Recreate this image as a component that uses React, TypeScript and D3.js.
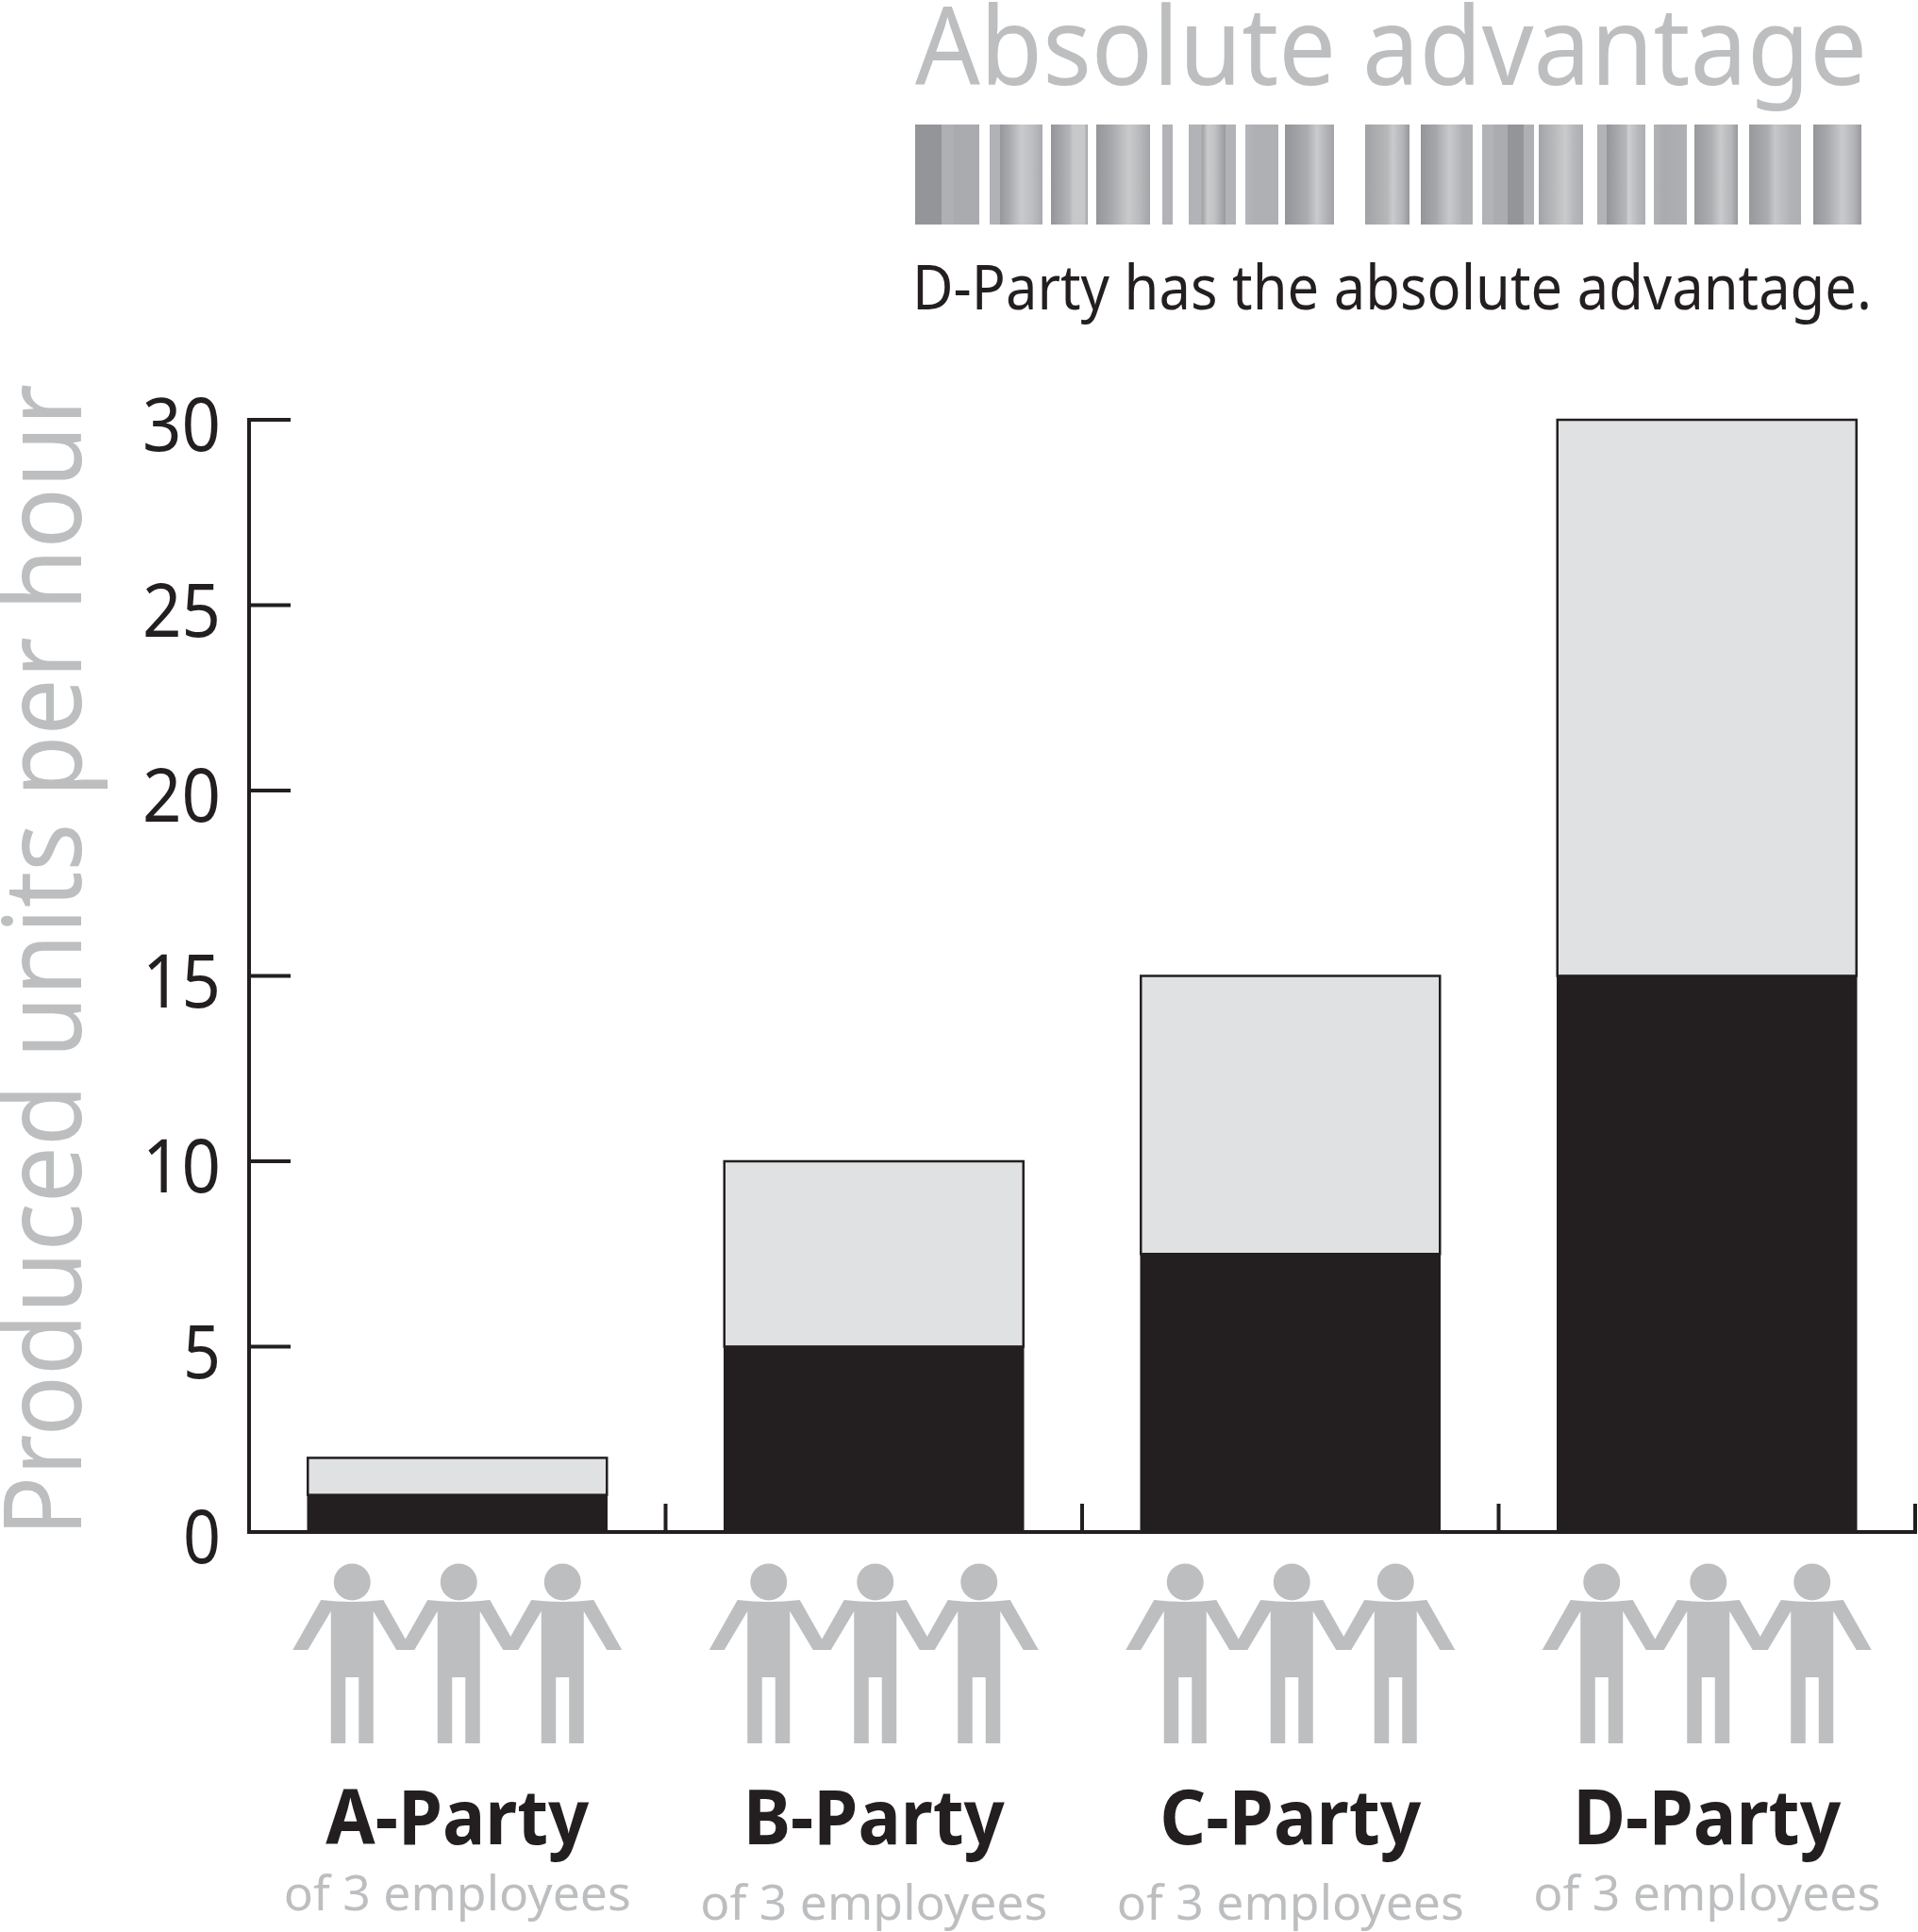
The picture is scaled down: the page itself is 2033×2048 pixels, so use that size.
import { useEffect, useRef } from "react";
import * as d3 from "d3";

const parties = ["A-Party", "B-Party", "C-Party", "D-Party"];
const lowerValues = [1, 5, 7.5, 15];
const upperValues = [1, 5, 7.5, 15];
const yTicks = [0, 5, 10, 15, 20, 25, 30];
const partyEdges = [1, 2, 3, 4];
const personSlots = [-111.5, 1.5, 111.5];
const subLabelDrop = [0, 10, 10, 0];
const partyLabelWidths = [279, 277, 277, 284];

// one strip per letter of the title, measured from the title's left edge
const stripStart = [0, 79, 144, 192, 262, 290, 350, 392, 477, 536, 601, 661, 723, 783, 826, 884, 952];
const stripEnd = [68, 135, 183, 249, 273, 340, 385, 444, 524, 591, 656, 708, 774, 818, 872, 939, 1003];
const stripStops: [number, string][][] = [
  [[0, "#939598"], [0.41, "#939598"], [0.41, "#aeb0b3"], [0.6, "#aeb0b3"], [0.6, "#a9abae"], [1, "#a9abae"]],
  [[0, "#b0b2b5"], [0.2, "#b0b2b5"], [0.2, "#96989b"], [0.35, "#a5a7aa"], [0.6, "#c8cacc"], [0.8, "#bcbec1"], [1, "#a9abae"]],
  [[0, "#939598"], [0.5, "#b2b4b7"], [0.6, "#c6c8ca"], [0.9, "#c6c8ca"], [1, "#a2a4a7"]],
  [[0, "#939598"], [0.3, "#a8aaad"], [0.6, "#c8cacc"], [0.8, "#b8babc"], [1, "#a2a4a7"]],
  [[0, "#b1b3b6"], [1, "#b1b3b6"]],
  [[0, "#b1b3b6"], [0.25, "#b1b3b6"], [0.3, "#a3a5a8"], [0.4, "#c9cbcd"], [0.55, "#c0c2c4"], [0.78, "#989a9d"], [0.78, "#b1b3b6"], [1, "#b1b3b6"]],
  [[0, "#b4b6b9"], [0.3, "#aeb0b3"], [1, "#aeb0b3"]],
  [[0, "#939598"], [0.45, "#aaacaf"], [0.65, "#c8cacc"], [0.85, "#b0b2b5"], [1, "#a2a4a7"]],
  [[0, "#a0a2a5"], [0.5, "#b5b7b9"], [0.62, "#c8cacc"], [0.85, "#b2b4b7"], [1, "#949699"]],
  [[0, "#939598"], [0.3, "#a6a8ab"], [0.55, "#c7c9cb"], [0.78, "#b2b4b7"], [0.8, "#aeb0b3"], [1, "#aeb0b3"]],
  [[0, "#b1b3b6"], [0.22, "#b1b3b6"], [0.22, "#aaacaf"], [0.5, "#aaacaf"], [0.5, "#939598"], [0.8, "#939598"], [0.8, "#aeb0b3"], [1, "#aeb0b3"]],
  [[0, "#a1a3a6"], [0.6, "#c8cacc"], [0.8, "#b5b7ba"], [1, "#adafb2"]],
  [[0, "#b1b3b6"], [0.2, "#b1b3b6"], [0.2, "#949699"], [0.6, "#b5b7ba"], [0.65, "#cdcfd1"], [0.85, "#b5b7ba"], [1, "#adafb2"]],
  [[0, "#b1b3b6"], [0.3, "#a9abae"], [1, "#aeb0b3"]],
  [[0, "#97999c"], [0.4, "#adafb2"], [0.6, "#c8cacc"], [0.85, "#b4b6b9"], [1, "#96989b"]],
  [[0, "#97999c"], [0.35, "#a9abae"], [0.5, "#c5c7c9"], [0.8, "#b0b2b5"], [1, "#aeb0b3"]],
  [[0, "#939598"], [0.3, "#a7a9ac"], [0.6, "#c8cacc"], [0.85, "#b2b4b7"], [1, "#97999c"]],
];

const DARK = "#231f20";
const GREY = "#bcbec0";
const LIGHT = "#e0e1e3";
const FONT = "'Noto Sans', sans-serif";

// single figure, origin at the middle of the head
const personPath =
  "M-33,19 Q0,23 33,19 L63,72 L47,72 L22.5,31 L22.5,171 L7,171 L7,101 L-7,101 L-7,171 L-22.5,171 L-22.5,31 L-47,72 L-63,72 Z";

export default function App() {
  const svgRef = useRef<SVGSVGElement | null>(null);

  useEffect(() => {
    if (!svgRef.current) return;
    const width = 2033;
    const height = 2048;
    const left = 264;
    const right = 2030;
    const y0 = 1624;
    const y30 = 445;

    const svg = d3.select(svgRef.current);
    svg.selectAll("*").remove();
    svg.attr("width", width).attr("height", height);

    const x = d3.scaleBand<string>().domain(parties).range([left, right]).paddingInner(0).paddingOuter(0);
    const edge = d3.scaleLinear().domain([0, 4]).range([left, right]);
    const y = d3.scaleLinear().domain([0, 30]).range([y0, y30]);
    const strip = d3.scaleLinear().domain([0, 1003]).range([970, 1973]);

    const label = (
      txt: string,
      px: number,
      py: number,
      size: number,
      len: number,
      fill: string,
      anchor = "start",
      weight = 400
    ) =>
      svg
        .append("text")
        .attr("x", px)
        .attr("y", py)
        .attr("font-family", FONT)
        .attr("font-size", size)
        .attr("font-weight", weight)
        .attr("fill", fill)
        .attr("text-anchor", anchor)
        .attr("textLength", len)
        .attr("lengthAdjust", "spacingAndGlyphs")
        .text(txt);

    // Header
    label("Absolute advantage", 970, 90, 115, 1009, GREY);
    label("D-Party has the absolute advantage.", 967, 328, 65, 1017, DARK);

    const defs = svg.append("defs");
    stripStops.forEach((stops, i) => {
      const g = defs.append("linearGradient").attr("id", `strip-${i}`);
      stops.forEach(([o, c]) => {
        g.append("stop").attr("offset", o).attr("stop-color", c);
      });
    });
    svg
      .append("g")
      .selectAll("rect")
      .data(stripStart)
      .join("rect")
      .attr("x", (d) => strip(d))
      .attr("y", 132)
      .attr("width", (d, i) => strip(stripEnd[i]) - strip(d))
      .attr("height", 106)
      .attr("fill", (_, i) => `url(#strip-${i})`);

    // Y title
    label("Produced units per hour", 0, 0, 116, 1222, GREY).attr(
      "transform",
      "translate(86,1629) rotate(-90)"
    );

    // Bars
    const barW = 317;
    const barX = (p: string) => (x(p) as number) + (x.bandwidth() - barW) / 2;
    svg
      .append("g")
      .selectAll("rect")
      .data(parties)
      .join("rect")
      .attr("x", (d) => barX(d))
      .attr("y", (_, i) => y(lowerValues[i] + upperValues[i]))
      .attr("width", barW)
      .attr("height", (_, i) => y(lowerValues[i]) - y(lowerValues[i] + upperValues[i]))
      .attr("fill", LIGHT)
      .attr("stroke", DARK)
      .attr("stroke-width", 2.5);
    svg
      .append("g")
      .selectAll("rect")
      .data(parties)
      .join("rect")
      .attr("x", (d) => barX(d))
      .attr("y", (_, i) => y(lowerValues[i]))
      .attr("width", barW)
      .attr("height", (_, i) => y(0) - y(lowerValues[i]))
      .attr("fill", DARK)
      .attr("stroke", DARK)
      .attr("stroke-width", 1.5);

    // Axes
    const yAxis = svg
      .append("g")
      .attr("transform", `translate(${left},0)`)
      .call(
        d3
          .axisLeft(y)
          .tickValues(yTicks)
          .tickSizeInner(-44)
          .tickSizeOuter(0)
          .tickPadding(30)
          .offset(0)
      );
    yAxis.selectAll("line").attr("stroke", DARK).attr("stroke-width", 4);
    yAxis.select(".domain").attr("stroke", DARK).attr("stroke-width", 4).attr("stroke-linecap", "square");
    yAxis
      .selectAll("text")
      .attr("dy", 33)
      .attr("font-family", FONT)
      .attr("font-size", 78)
      .attr("fill", DARK)
      .attr("textLength", (d: any) => (d < 10 ? 40 : 83))
      .attr("lengthAdjust", "spacingAndGlyphs");

    const xAxis = svg
      .append("g")
      .attr("transform", `translate(0,${y0})`)
      .call(
        d3
          .axisBottom(edge)
          .tickValues(partyEdges)
          .tickSizeInner(-30)
          .tickSizeOuter(0)
          .tickFormat(() => "")
          .offset(0)
      );
    xAxis.selectAll("line").attr("stroke", DARK).attr("stroke-width", 4);
    xAxis.select(".domain").attr("stroke", DARK).attr("stroke-width", 4).attr("stroke-linecap", "square");

    // Staff figures + party names
    const cols = svg
      .append("g")
      .selectAll("g")
      .data(parties)
      .join("g")
      .attr("transform", (d) => `translate(${(x(d) as number) + x.bandwidth() / 2},0)`);

    cols.each(function () {
      const col = d3.select(this);
      personSlots.forEach((dx) => {
        const fig = col.append("g").attr("transform", `translate(${dx},1677)`).attr("fill", GREY);
        fig.append("circle").attr("r", 19.5);
        fig.append("path").attr("d", personPath);
      });
    });

    parties.forEach((p, i) => {
      const cx = (x(p) as number) + x.bandwidth() / 2;
      label(p, cx, 1955, 81, partyLabelWidths[i], DARK, "middle", 700);
      label("of 3 employees", cx, 2025 + subLabelDrop[i], 51, 368, GREY, "middle");
    });
  }, []);

  return <svg ref={svgRef} style={{ position: "absolute", left: 0, top: 0, display: "block", background: "#fff" }} />;
}
